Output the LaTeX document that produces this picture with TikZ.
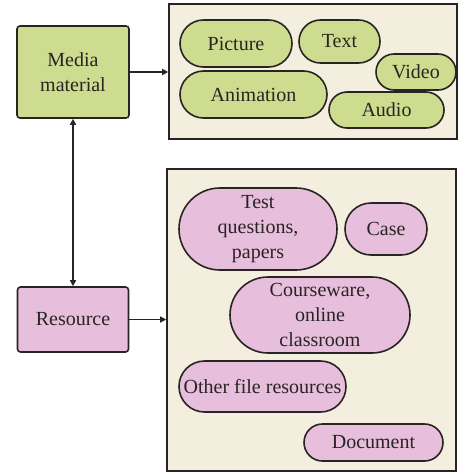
\documentclass[tikz,border=0pt]{standalone}
\usepackage{fontspec}
\setmainfont{Liberation Serif}
\usetikzlibrary{shapes.misc,arrows.meta}
\definecolor{gfill}{RGB}{205,220,142}
\definecolor{pfill}{RGB}{231,190,220}
\definecolor{bfill}{RGB}{243,238,221}
\definecolor{edge}{RGB}{40,36,36}
\tikzset{
  every node/.style={font=\fontsize{20}{25}\selectfont, text=edge},
  mainbox/.style={draw=edge, line width=1.6pt, rounded corners=3pt, align=center, inner sep=0pt},
  container/.style={draw=edge, line width=1.6pt, fill=bfill, inner sep=0pt},
  pill/.style={draw=edge, line width=1.6pt, rounded rectangle, inner sep=0pt, align=center},
  gpill/.style={pill, fill=gfill},
  ppill/.style={pill, fill=pfill},
  conn/.style={draw=edge, line width=1.4pt, -{Triangle[length=6pt,width=6pt]}},
  dconn/.style={draw=edge, line width=1.4pt, {Triangle[length=6pt,width=6pt]}-{Triangle[length=6pt,width=6pt]}}
}
\begin{document}
\begin{tikzpicture}[x=1pt,y=-1pt]
\useasboundingbox (0,0) rectangle (474,474);
\node[mainbox, fill=gfill, minimum width=112pt, minimum height=92pt] (media) at (73,72) {Media\\material};
\node[mainbox, fill=pfill, minimum width=111pt, minimum height=65pt] (res) at (73,319.5) {Resource};
\node[container, minimum width=288pt, minimum height=135pt] (top) at (313,71.5) {};
\node[container, minimum width=289pt, minimum height=302pt] (bot) at (311.5,320) {};
\node[gpill, minimum width=112pt, minimum height=47pt] (picture) at (236,43.5) {Picture};
\node[gpill, minimum width=81pt, minimum height=43pt] (text) at (339.5,41.5) {Text};
\node[gpill, minimum width=80pt, minimum height=36pt] (video) at (416,72) {Video};
\node[gpill, minimum width=147pt, minimum height=47pt] (anim) at (253.5,94.5) {Animation};
\node[gpill, minimum width=115pt, minimum height=36pt] (audio) at (386.5,110) {Audio};
\node[ppill, minimum width=158pt, minimum height=82pt] (test) at (258,229) {Test\\questions,\\papers};
\node[ppill, minimum width=82pt, minimum height=52pt] (case) at (386,229) {Case};
\node[ppill, minimum width=180pt, minimum height=76pt] (course) at (320,315) {Courseware,\\online\\classroom};
\node[ppill, minimum width=167pt, minimum height=51pt] (other) at (262.5,386.5) {Other file resources};
\node[ppill, minimum width=139pt, minimum height=37pt] (doc) at (373.5,442.5) {Document};
\draw[conn] (media.east) -- (media.east -| top.west);
\draw[conn] (res.east) -- (res.east -| bot.west);
\draw[dconn] (media.south) -- (res.north);
\end{tikzpicture}
\end{document}
